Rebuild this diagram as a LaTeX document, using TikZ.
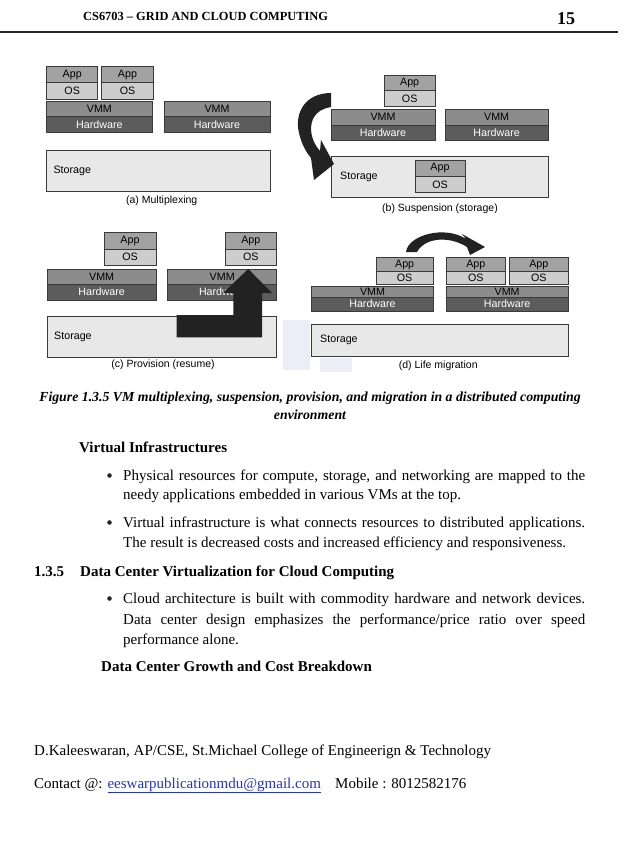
\documentclass[tikz,border=0pt]{standalone}
\usepackage{fontspec}
\setmainfont{Liberation Serif}
\setsansfont{Liberation Sans}
\definecolor{appc}{HTML}{A2A2A2}
\definecolor{osc}{HTML}{CDCDCD}
\definecolor{vmmc}{HTML}{8C8C8C}
\definecolor{hwc}{HTML}{5C5C5C}
\definecolor{stoc}{HTML}{E8E8E8}
\definecolor{edgec}{HTML}{3A3A3A}
\definecolor{arrc}{HTML}{222222}
\definecolor{wmc}{HTML}{EDEDF7}
\definecolor{linkc}{HTML}{2235C8}
\begin{document}
\begin{tikzpicture}[x=1pt,y=-1pt,
  blk/.style={draw=edgec, line width=0.8pt, inner sep=0pt, outer sep=0pt, anchor=north west, font=\sffamily\fontsize{10.7}{12}\selectfont},
  appb/.style={blk, fill=appc},
  osb/.style={blk, fill=osc},
  vmmb/.style={blk, fill=vmmc},
  hwb/.style={blk, fill=hwc, text=white},
  stob/.style={blk, fill=stoc},
  stolab/.style={anchor=west, inner sep=0pt, font=\sffamily\fontsize{10.7}{12}\selectfont},
  subcap/.style={inner sep=0pt, font=\sffamily\fontsize{10.5}{12}\selectfont},
  arr/.style={fill=arrc, draw=none},
  body/.style={font=\fontsize{15}{18}\selectfont, inner sep=0pt, anchor=base west},
  bodyb/.style={body, font=\bfseries\fontsize{15}{18}\selectfont},
  bul/.style={circle, fill=black!85, inner sep=0pt, minimum size=4.6pt},
  figcap/.style={anchor=base, inner sep=0pt, font=\bfseries\itshape\fontsize{13.8}{16}\selectfont}
]
\useasboundingbox[fill=white] (0,0) rectangle (638,851);

% header
\node[anchor=base west, inner sep=0pt, font=\bfseries\fontsize{12.4}{14}\selectfont] (hdr) at (83,21) {CS6703 -- GRID AND CLOUD COMPUTING};
\node[anchor=base west, inner sep=0pt, font=\bfseries\fontsize{18}{20}\selectfont] (pg) at (557,25) {15};
\coordinate (rl) at (0,32);
\coordinate (rr) at (618,32);
\draw[line width=1.6pt, black!85] (rl) -- (rr);

% watermark traces
\fill[wmc] (283,320) rectangle (310,370);
\fill[wmc] (320,358) rectangle (352,372);

% ---------- (a) Multiplexing
\node[appb, minimum width=51pt, minimum height=16pt] (aapp1) at (46.7,66.7) {App};
\node[osb, minimum width=51pt, minimum height=16.3pt] (aos1) at (46.7,82.7) {OS};
\node[appb, minimum width=51.6pt, minimum height=16pt] (aapp2) at (101.7,66.7) {App};
\node[osb, minimum width=51.6pt, minimum height=16.3pt] (aos2) at (101.7,82.7) {OS};
\node[vmmb, minimum width=106.7pt, minimum height=15pt] (avmm1) at (46,101.7) {VMM};
\node[hwb, minimum width=106.7pt, minimum height=16pt] (ahw1) at (46,116.7) {Hardware};
\node[vmmb, minimum width=106pt, minimum height=15pt] (avmm2) at (164,101.7) {VMM};
\node[hwb, minimum width=106pt, minimum height=16pt] (ahw2) at (164,116.7) {Hardware};
\node[stob, minimum width=223.3pt, minimum height=41.7pt] (asto) at (46.7,150) {};
\node[stolab] (astol) at ([xshift=6.6pt]asto.west) {Storage};
\node[subcap] (acap) at (161.7,201) {(a) Multiplexing};

% ---------- (b) Suspension
\node[appb, minimum width=50.7pt, minimum height=15pt] (bapp) at (384.3,75) {App};
\node[osb, minimum width=50.7pt, minimum height=16.7pt] (bos) at (384.3,90) {OS};
\node[vmmb, minimum width=104pt, minimum height=15.7pt] (bvmm1) at (331,109.3) {VMM};
\node[hwb, minimum width=104pt, minimum height=15pt] (bhw1) at (331,125) {Hardware};
\node[vmmb, minimum width=103.3pt, minimum height=15.7pt] (bvmm2) at (445,109.3) {VMM};
\node[hwb, minimum width=103.3pt, minimum height=15pt] (bhw2) at (445,125) {Hardware};
\node[stob, minimum width=216.6pt, minimum height=40.6pt] (bsto) at (331.7,156.7) {};
\node[stolab] (bstol) at ([xshift=8.3pt]bsto.west) {Storage};
\node[appb, minimum width=50pt, minimum height=16.7pt] (bsapp) at (415,160) {App};
\node[osb, minimum width=50pt, minimum height=15.6pt] (bsos) at (415,176.7) {OS};
\node[subcap] (bcap) at (440,209) {(b) Suspension (storage)};
\fill[arr] (331,93) .. controls (306,93) and (294,112) .. (299,133)
  .. controls (302,146) and (307,153) .. (311,158) -- (314,180) -- (334,164) -- (321,140)
  -- (320,151) .. controls (311,141) and (309,128) .. (313,119)
  .. controls (317,111) and (324,108) .. (331,107) -- cycle;

% ---------- (c) Provision
\node[appb, minimum width=52pt, minimum height=17pt] (capp1) at (104,232.3) {App};
\node[osb, minimum width=52pt, minimum height=15.7pt] (cos1) at (104,249.3) {OS};
\node[appb, minimum width=51.7pt, minimum height=17pt] (capp2) at (225,232.3) {App};
\node[osb, minimum width=51.7pt, minimum height=15.7pt] (cos2) at (225,249.3) {OS};
\node[vmmb, minimum width=108.7pt, minimum height=15pt] (cvmm1) at (47.3,269) {VMM};
\node[hwb, minimum width=108.7pt, minimum height=16pt] (chw1) at (47.3,284) {Hardware};
\node[vmmb, minimum width=109pt, minimum height=15pt] (cvmm2) at (167.7,269) {VMM};
\node[hwb, minimum width=109pt, minimum height=16pt] (chw2) at (167.7,284) {Hardware};
\node[stob, minimum width=228.7pt, minimum height=40.6pt] (csto) at (47.3,316.7) {};
\node[stolab] (cstol) at ([xshift=6.7pt]csto.west) {Storage};
\node[subcap] (ccap) at (163,365) {(c) Provision (resume)};
\fill[arr] (176.7,315) -- (233.3,315) -- (233.3,293) -- (223,293) -- (248.3,269)
  -- (272,293) -- (262,293) -- (262,337.3) -- (176.7,337.3) -- cycle;

% ---------- (d) Life migration
\node[appb, minimum width=57.3pt, minimum height=14pt] (dapp1) at (376,257.7) {App};
\node[osb, minimum width=57.3pt, minimum height=12.6pt] (dos1) at (376,271.7) {OS};
\node[appb, minimum width=58.3pt, minimum height=14pt] (dapp2) at (446.7,257.7) {App};
\node[osb, minimum width=58.3pt, minimum height=12.6pt] (dos2) at (446.7,271.7) {OS};
\node[appb, minimum width=59pt, minimum height=14pt] (dapp3) at (509.3,257.7) {App};
\node[osb, minimum width=59pt, minimum height=12.6pt] (dos3) at (509.3,271.7) {OS};
\node[vmmb, minimum width=121.6pt, minimum height=11.3pt] (dvmm1) at (311.7,286) {VMM};
\node[hwb, minimum width=121.6pt, minimum height=13.7pt] (dhw1) at (311.7,297.3) {Hardware};
\node[vmmb, minimum width=122.3pt, minimum height=11.3pt] (dvmm2) at (446,286) {VMM};
\node[hwb, minimum width=122.3pt, minimum height=13.7pt] (dhw2) at (446,297.3) {Hardware};
\node[stob, minimum width=256.6pt, minimum height=32.7pt] (dsto) at (311.7,324) {};
\node[stolab] (dstol) at ([xshift=8.3pt]dsto.west) {Storage};
\node[subcap] (dcap) at (438.3,366) {(d) Life migration};
\fill[arr] (406,252) .. controls (408,235) and (445,225) .. (466,239) -- (462,234)
  -- (485,247) -- (470,255) -- (467,247) .. controls (450,236) and (425,237) .. (417,252) -- cycle;

% ---------- caption
\node[figcap] (fcap1) at (310,401.5) {Figure 1.3.5 VM multiplexing, suspension, provision, and migration in a distributed computing};
\node[figcap] (fcap2) at (310,419.5) {environment};

% ---------- body
\node[bodyb] (h1) at (79,452) {Virtual Infrastructures};
\node[bul] (b1) at (109.5,475.5) {};
\node[body] (b1l1) at (123,480) {\makebox[462pt][s]{Physical resources for compute, storage, and networking are mapped to the}};
\node[body] (b1l2) at (123,499) {needy applications embedded in various VMs at the top.};
\node[bul] (b2) at (109.5,522.5) {};
\node[body] (b2l1) at (123,527) {\makebox[462pt][s]{Virtual infrastructure is what connects resources to distributed applications.}};
\node[body] (b2l2) at (123,547) {The result is decreased costs and increased efficiency and responsiveness.};
\node[bodyb] (s1n) at (34,576) {1.3.5};
\node[bodyb] (s1t) at (80,576) {Data Center Virtualization for Cloud Computing};
\node[bul] (b3) at (109.5,598.5) {};
\node[body] (b3l1) at (123,603) {\makebox[462pt][s]{Cloud architecture is built with commodity hardware and network devices.}};
\node[body] (b3l2) at (123,624) {\makebox[462pt][s]{Data center design emphasizes the performance/price ratio over speed}};
\node[body] (b3l3) at (123,644) {performance alone.};
\node[bodyb] (h2) at (101,671) {Data Center Growth and Cost Breakdown};

% ---------- footer
\node[body] (f1) at (34,755) {D.Kaleeswaran, AP/CSE, St.Michael College of Engineerign \& Technology};
\node[body] (f2) at (34,788) {Contact @: \textcolor{linkc}{\underline{eeswarpublicationmdu@gmail.com}}};
\node[body] (f2m) at (335,788) {Mobile : 8012582176};
\end{tikzpicture}
\end{document}
